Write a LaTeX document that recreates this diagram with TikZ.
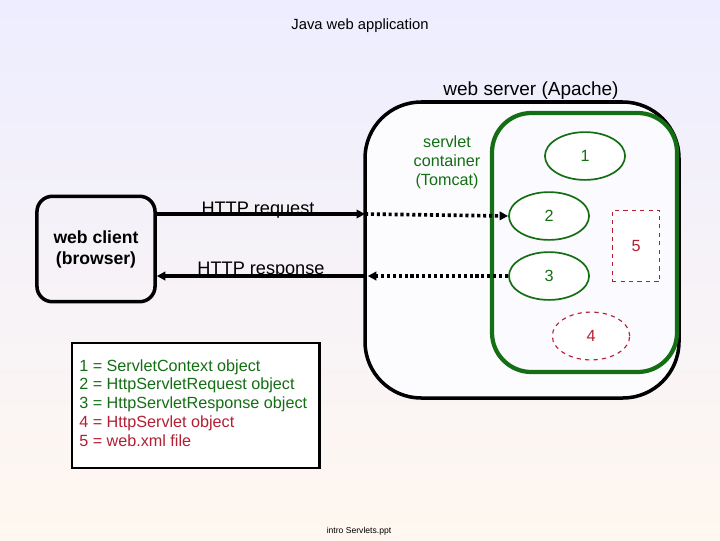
\documentclass[tikz,border=0pt]{standalone}
\usepackage{fontspec}
\setmainfont{Liberation Sans}
\usetikzlibrary{shapes.geometric,arrows.meta}
\definecolor{dkgreen}{RGB}{20,110,20}
\definecolor{dkred}{RGB}{180,30,50}
\tikzset{
	part/.style={draw=dkgreen, very thick, ellipse, fill=white, minimum width=57pt, minimum height=34pt, text=dkgreen, inner sep=0pt},
	xmlpart/.style={draw=dkred, thick, dashed, fill=white, text=dkred, inner sep=0pt},
	wire/.style={-{Triangle[length=6pt,width=6pt]}, line width=2.2pt},
	dotwire/.style={wire, dotted, line width=2.6pt}
}

\begin{document}
\begin{tikzpicture}[x=0.025cm, y=-0.025cm, every node/.style={font=\fontsize{11.5}{13.5}\selectfont}]
        % Background
        \shade[top color=blue!7, bottom color=orange!6] (0,0) rectangle (720,540);
        \useasboundingbox (0,0) rectangle (720,540);

        % Titles
        \node (title) at (360,26) {\fontsize{10.5}{12}\selectfont Java web application};
        \node (apache) at (531,91) {\fontsize{13.5}{15}\selectfont web server (Apache)};

        % Web server and container
        \draw[line width=2.5pt, rounded corners=40, fill=white!60!blue!3] (365,102) rectangle (679,398);
        \coordinate (srvL1) at (365,214);
        \coordinate (srvL2) at (365,276);
        \draw[draw=dkgreen, line width=3pt, rounded corners=28, fill=white!50!blue!4] (492,113) rectangle (677,372);
        \node[text=dkgreen, align=center] (tomcat) at (447,162) {servlet\\container\\(Tomcat)};

        % Parts
        \node[part] (ctx) at (585,156) {1};
        \node[part] (req) at (549,216) {2};
        \node[part] (resp) at (549,276) {3};
        \node[xmlpart, ellipse, minimum width=55pt, minimum height=34pt] (serv) at (591,336) {4};
        \node[xmlpart, minimum width=34pt, minimum height=51pt] (xml) at (636,246) {5};

        % Web client
        \node[draw, line width=2.5pt, rounded corners=11pt, minimum width=84pt, minimum height=75pt, align=center, font=\bfseries\fontsize{12.5}{15}\selectfont] (client) at (96,249) {web client\\(browser)};

        % Arrows
        \draw[wire] (client.east |- srvL1) -- (srvL1);
        \draw[dotwire] (srvL1) -- (req.west);
        \draw[dotwire] (resp.west) -- ([xshift=2]srvL2);
        \draw[wire] (srvL2) -- (client.east |- srvL2);
        \node[anchor=base, font=\fontsize{12.9}{15}\selectfont] (reqlbl) at (258,214) {HTTP request};
        \node[anchor=base, font=\fontsize{12.9}{15}\selectfont] (resplbl) at (261,274) {HTTP response};

        % Legend
        \node[draw, line width=1.5pt, fill=white, minimum width=176pt, minimum height=89pt, anchor=north west, inner sep=0pt] (legend) at (71,342) {};
        \node[anchor=north west, align=left, inner sep=0pt, font=\fontsize{11.5}{13.5}\selectfont] (legtxt) at (79,359) {\textcolor{dkgreen}{1 = ServletContext object}\\\textcolor{dkgreen}{2 = HttpServletRequest object}\\\textcolor{dkgreen}{3 = HttpServletResponse object}\\\textcolor{dkred}{4 = HttpServlet object}\\\textcolor{dkred}{5 = web.xml file}};

        % Footer
        \node (footer) at (359,531) {\fontsize{6.1}{7}\selectfont intro Servlets.ppt};
\end{tikzpicture}
\end{document}
